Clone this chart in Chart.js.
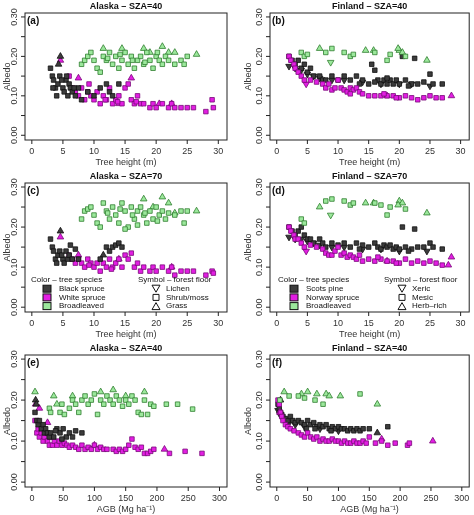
<!DOCTYPE html>
<html>
<head>
<meta charset="utf-8">
<script src="https://cdn.jsdelivr.net/npm/chart.js@4"></script>
<style>
  body { margin: 0; background: #fff; }
  #grid { position: relative; width: 474px; height: 515px; }
  .cell { position: absolute; width: 237px; height: 172px; }
</style>
</head>
<body>
<div id="grid">
  <div class="cell" style="left:0;top:0"><canvas id="pa"></canvas></div>
  <div class="cell" style="left:237px;top:0"><canvas id="pb"></canvas></div>
  <div class="cell" style="left:0;top:171px"><canvas id="pc"></canvas></div>
  <div class="cell" style="left:237px;top:171px"><canvas id="pd"></canvas></div>
  <div class="cell" style="left:0;top:343px"><canvas id="pe"></canvas></div>
  <div class="cell" style="left:237px;top:343px"><canvas id="pf"></canvas></div>
</div>
<script>
// ---- datos: [x, albedo] ----
const aBlackSq = [[3,0.17],[3.3,0.15],[3.5,0.14],[3.8,0.12],[4,0.10],[4.2,0.13],[4.5,0.15],[5,0.12],[5.2,0.11],[5.5,0.14],[5.8,0.10],[6,0.13],[6.2,0.12],[6.5,0.11],[7,0.10],[7.5,0.12],[8,0.09],[9,0.11],[10,0.10],[11,0.12],[12,0.13],[12.5,0.11],[13,0.10],[14,0.13],[3.4,0.12],[4.8,0.14],[5.6,0.15],[6.8,0.12]];
const aWhiteSq = [[6,0.15],[6.5,0.12],[7,0.11],[7.5,0.10],[8,0.12],[8.5,0.09],[9,0.11],[9.5,0.10],[10,0.09],[10.5,0.11],[11,0.08],[11.5,0.10],[12,0.09],[12.5,0.12],[13,0.08],[13.5,0.09],[14,0.10],[14.5,0.08],[15,0.12],[15.5,0.13],[16,0.09],[16.5,0.08],[17,0.10],[17.5,0.08],[18,0.08],[19,0.07],[19.5,0.08],[20,0.07],[21,0.08],[22,0.07],[22.5,0.08],[23,0.07],[24,0.07],[25,0.07],[26,0.07],[28,0.06],[29,0.09],[29.2,0.07],[9.2,0.13],[11.8,0.09],[13.8,0.085],[16.8,0.085]];
const aWhiteTri = [[4.6,0.19],[7.5,0.145],[16,0.145],[20.5,0.08],[22.5,0.08],[14,0.08]];
const aBlackTri = [[4.6,0.20],[4.3,0.18]];
const aGreenSq = [[8,0.18],[8.5,0.19],[9,0.20],[9.5,0.21],[10,0.19],[10.5,0.17],[11,0.16],[11.5,0.20],[12,0.19],[12.5,0.21],[13,0.18],[13.5,0.20],[14,0.17],[14.5,0.19],[15,0.21],[15.5,0.18],[16,0.20],[16.5,0.17],[17,0.19],[17.5,0.20],[18,0.18],[18.5,0.21],[19,0.19],[19.5,0.17],[20,0.20],[20.5,0.19],[21,0.18],[21.5,0.20],[22,0.19],[23,0.18],[24,0.19],[24.5,0.18],[25,0.20],[12.2,0.195],[14.2,0.205],[16.2,0.19],[18.2,0.185],[20.2,0.21]];
const aGreenTri = [[11.5,0.22],[14.5,0.22],[18,0.22],[21,0.225],[22,0.21],[23,0.21],[26.5,0.205],[19,0.21]];

const bBlackSq = [[2,0.20],[2.5,0.19],[3,0.18],[3.5,0.19],[4,0.17],[4.5,0.18],[5,0.16],[5.5,0.17],[6,0.15],[7,0.15],[7.5,0.14],[8,0.14],[9,0.15],[10,0.14],[11,0.15],[12,0.14],[13,0.15],[14,0.14],[15,0.13],[15.5,0.18],[16,0.165],[16.5,0.14],[17,0.13],[17.5,0.14],[18,0.13],[18.5,0.14],[19,0.13],[19.5,0.14],[20,0.13],[20.5,0.20],[21,0.14],[22,0.13],[22.5,0.195],[23,0.13],[24,0.135],[25,0.155],[25.5,0.13],[27,0.13],[13.5,0.13],[16,0.135],[18,0.145],[21.5,0.125]];
const bBlackInv = [[2,0.175],[3,0.17],[4,0.165],[5,0.155],[6,0.15],[7,0.145],[9,0.14],[11,0.14],[14,0.135],[17,0.13],[20,0.13],[22,0.13],[25,0.125]];
const bWhiteSq = [[2,0.20],[2.3,0.19],[2.8,0.18],[3,0.17],[3.5,0.16],[4,0.15],[4.5,0.14],[5.5,0.14],[6.5,0.135],[7.5,0.13],[8,0.12],[8.5,0.13],[9,0.115],[9.5,0.12],[10,0.14],[10.5,0.12],[11,0.115],[11.5,0.11],[12,0.12],[12.5,0.115],[13,0.12],[13.5,0.11],[14,0.105],[15,0.10],[16,0.10],[17,0.10],[18,0.10],[19,0.10],[20,0.095],[21,0.10],[22,0.095],[23,0.09],[24,0.095],[25,0.10],[26,0.095],[27,0.095],[17.5,0.105],[19.5,0.095],[12,0.105]];
const bWhiteTri = [[28.5,0.10],[18,0.10]];
const bWhiteInv = [[4.8,0.13]];
const bGreenSq = [[4,0.21],[4.5,0.20],[5,0.205],[8,0.21],[9,0.22],[11,0.21],[12,0.20],[12.5,0.205],[16,0.21],[18.5,0.205],[18,0.19],[21,0.20]];
const bGreenTri = [[7,0.22],[14.5,0.215],[15.8,0.215],[20,0.215],[20.5,0.21],[24.5,0.19],[19.8,0.22]];
const bGreenInv = [[8.8,0.185]];

const cBlackSq = [[3,0.17],[3.3,0.15],[3.5,0.14],[3.8,0.12],[4,0.11],[4.2,0.13],[4.5,0.14],[5,0.12],[5.2,0.11],[5.5,0.14],[5.8,0.12],[6,0.13],[6.2,0.155],[6.5,0.12],[7,0.145],[7.5,0.12],[12,0.15],[12.5,0.14],[13,0.15],[13.5,0.155],[14,0.16],[14.5,0.15],[11,0.12],[4.8,0.13]];
const cBlackTri = [[4.6,0.19],[11.5,0.13]];
const cWhiteSq = [[6,0.13],[6.5,0.12],[7,0.11],[7.5,0.12],[8,0.11],[8.5,0.10],[9,0.12],[9.5,0.11],[10,0.10],[10.5,0.11],[11,0.09],[11.5,0.11],[12,0.10],[12.5,0.12],[13,0.10],[13.5,0.11],[14,0.12],[14.5,0.10],[15,0.13],[15.5,0.12],[16,0.135],[16.5,0.10],[17,0.11],[17.5,0.09],[18,0.10],[19,0.09],[19.5,0.10],[20,0.09],[21,0.10],[22,0.09],[22.5,0.10],[23,0.08],[24,0.09],[25,0.09],[26,0.09],[28,0.08],[29,0.09],[29.2,0.085],[9.2,0.105],[12.8,0.095]];
const cWhiteTri = [[4.6,0.175],[7.5,0.13],[14,0.12],[22.5,0.10]];
const cGreenSq = [[8,0.22],[8.5,0.24],[9,0.245],[9.5,0.25],[10,0.23],[10.5,0.21],[11,0.20],[11.5,0.26],[12,0.24],[12.5,0.22],[13,0.25],[13.5,0.23],[14,0.21],[14.5,0.26],[15,0.24],[15.5,0.20],[16,0.25],[16.5,0.22],[17,0.24],[17.5,0.25],[18,0.23],[18.5,0.21],[19,0.24],[19.5,0.22],[20,0.25],[20.5,0.23],[21,0.24],[21.5,0.22],[22,0.235],[23,0.23],[24,0.24],[24.5,0.21],[25,0.24],[12.2,0.235],[14.2,0.245],[16.2,0.23],[18.2,0.235],[20.2,0.215],[15,0.195],[17,0.205]];
const cGreenTri = [[18,0.27],[21,0.275],[22,0.26],[23,0.235],[26.5,0.24],[19.5,0.25]];

const dBlackSq = [[2,0.20],[2.5,0.19],[3,0.18],[3.5,0.19],[4,0.20],[4.5,0.18],[5,0.17],[5.5,0.17],[6,0.16],[7,0.17],[7.5,0.16],[8,0.15],[9,0.16],[10,0.155],[11,0.16],[12,0.15],[13,0.16],[14,0.155],[15,0.15],[16,0.16],[16.5,0.15],[17,0.145],[17.5,0.155],[18,0.15],[18.5,0.155],[19,0.145],[19.5,0.15],[20,0.145],[20.5,0.20],[21,0.15],[22,0.145],[22.5,0.195],[23,0.15],[24,0.15],[25,0.16],[25.5,0.15],[27,0.145],[13.5,0.145],[21.5,0.14]];
const dBlackInv = [[2,0.175],[3,0.17],[4,0.17],[5,0.165],[6,0.16],[7,0.155],[9,0.15],[11,0.15],[14,0.145],[17,0.145],[20,0.14],[24.5,0.14]];
const dWhiteSq = [[2,0.20],[2.3,0.19],[2.8,0.18],[3,0.17],[3.5,0.17],[4,0.16],[4.5,0.15],[5.5,0.155],[6.5,0.15],[7.5,0.145],[8,0.135],[8.5,0.13],[9,0.13],[9.5,0.14],[10,0.15],[10.5,0.13],[11,0.135],[11.5,0.125],[12,0.13],[12.5,0.125],[13,0.12],[13.5,0.13],[14,0.115],[15,0.12],[16,0.115],[17,0.12],[18,0.115],[19,0.115],[20,0.11],[21,0.12],[22,0.11],[23,0.115],[24,0.11],[25,0.115],[26,0.11],[27,0.105],[16.5,0.125],[19.5,0.11]];
const dWhiteTri = [[28.5,0.125],[28,0.105],[18,0.115]];
const dWhiteInv = [[4.8,0.14]];
const dGreenSq = [[4,0.22],[4.5,0.21],[8,0.265],[9,0.27],[11,0.265],[12,0.255],[12.5,0.26],[16,0.26],[17,0.255],[18.5,0.25],[18,0.23],[21,0.245]];
const dGreenTri = [[7,0.25],[14.5,0.26],[15.8,0.26],[20,0.265],[20.5,0.26],[24.5,0.235],[19.8,0.255]];
const dGreenInv = [[8.8,0.23]];

const eBlackSq = [[5,0.17],[8,0.15],[10,0.14],[12,0.15],[15,0.13],[18,0.14],[20,0.12],[22,0.13],[25,0.12],[28,0.11],[30,0.12],[35,0.11],[40,0.13],[45,0.12],[50,0.13],[55,0.11],[60,0.12],[65,0.11],[70,0.125],[80,0.12],[48,0.105],[38,0.125]];
const eBlackTri = [[6,0.20],[7,0.19]];
const eWhiteSq = [[5,0.15],[8,0.12],[10,0.13],[12,0.11],[15,0.12],[18,0.10],[20,0.11],[22,0.12],[25,0.10],[28,0.09],[30,0.11],[33,0.09],[36,0.10],[40,0.09],[44,0.10],[48,0.09],[52,0.095],[56,0.09],[60,0.085],[65,0.09],[70,0.085],[75,0.08],[80,0.09],[85,0.08],[90,0.085],[95,0.08],[100,0.09],[105,0.08],[110,0.085],[115,0.08],[120,0.08],[130,0.08],[135,0.075],[140,0.08],[145,0.075],[150,0.08],[155,0.09],[160,0.105],[165,0.085],[170,0.08],[175,0.085],[180,0.07],[185,0.07],[190,0.075],[195,0.08],[220,0.07],[245,0.075],[272,0.07]];
const eWhiteTri = [[6,0.19],[12,0.18],[25,0.145],[100,0.09],[212,0.08]];
const eGreenSq = [[28,0.18],[30,0.17],[45,0.17],[48,0.19],[52,0.165],[60,0.18],[65,0.2],[70,0.19],[75,0.17],[80,0.2],[85,0.21],[90,0.19],[95,0.2],[100,0.215],[105,0.165],[110,0.2],[115,0.19],[120,0.21],[125,0.2],[130,0.19],[135,0.21],[140,0.2],[145,0.185],[150,0.2],[155,0.19],[160,0.21],[165,0.2],[170,0.17],[175,0.165],[180,0.2],[185,0.165],[190,0.19],[195,0.185],[215,0.19],[233,0.19],[257,0.178]];
const eGreenTri = [[5,0.22],[35,0.21],[40,0.19],[65,0.21],[110,0.22],[130,0.225],[150,0.21],[180,0.22]];

const fBlackSq = [[2,0.19],[4,0.18],[6,0.17],[8,0.165],[10,0.16],[14,0.155],[18,0.15],[22,0.16],[26,0.15],[30,0.145],[35,0.15],[40,0.145],[45,0.14],[50,0.15],[55,0.14],[60,0.145],[65,0.135],[70,0.14],[75,0.135],[80,0.14],[85,0.13],[90,0.135],[95,0.13],[100,0.135],[105,0.13],[110,0.13],[115,0.125],[120,0.13],[125,0.125],[130,0.13],[135,0.125],[140,0.13],[150,0.13],[180,0.135],[48,0.13],[62,0.13],[88,0.125]];
const fBlackInv = [[2,0.175],[5,0.165],[10,0.155],[20,0.145],[30,0.14],[45,0.135],[70,0.13],[100,0.125]];
const fBlackTri = [[6,0.2],[163,0.12]];
const fWhiteSq = [[2,0.20],[4,0.19],[6,0.17],[8,0.16],[10,0.15],[14,0.14],[18,0.135],[22,0.13],[28,0.125],[35,0.12],[40,0.115],[45,0.11],[50,0.12],[55,0.11],[60,0.105],[65,0.11],[70,0.10],[75,0.105],[80,0.10],[85,0.10],[90,0.105],[95,0.10],[100,0.10],[105,0.095],[110,0.10],[115,0.095],[120,0.095],[125,0.10],[130,0.095],[135,0.095],[140,0.10],[145,0.095],[150,0.11],[160,0.095],[170,0.1],[180,0.09],[192,0.095],[212,0.09],[215,0.095]];
const fWhiteTri = [[5,0.17],[170,0.105],[253,0.1]];
const fGreenSq = [[20,0.21],[35,0.21],[45,0.205],[62,0.2],[75,0.19],[135,0.215],[5,0.2]];
const fGreenTri = [[12,0.22],[40,0.215],[50,0.22],[65,0.215],[80,0.215],[85,0.21],[103,0.21],[163,0.19]];

const xTicksHeight = [0, 5, 10, 15, 20, 25, 30];
const xTicksAgb = [0, 50, 100, 150, 200, 250, 300];
const yTicks = [0, 0.05, 0.10, 0.15, 0.20, 0.25, 0.30];
const yLabels = ['0.00', '', '0.10', '', '0.20', '', '0.30'];

// ---- estilos ----
const species = {
  black: { fill: '#3c3c3c', border: '#111' },
  white: { fill: '#e21ee2', border: '#7a0a7a' },
  green: { fill: '#9ce89c', border: '#2e7d2e' }
};

function serie(data, sp, shape) {
  const c = species[sp];
  return {
    data: data.map(p => ({ x: p[0], y: p[1] })),
    pointStyle: shape === 'sq' ? 'rect' : 'triangle',
    rotation: shape === 'inv' ? 180 : 0,
    pointRadius: shape === 'sq' ? 3.2 : 3.8,
    backgroundColor: c.fill,
    borderColor: c.border,
    borderWidth: 0.8
  };
}

// Plugin que dibuja marco, ejes al estilo R, títulos y leyenda
const estiloR = {
  id: 'estiloR',
  afterDraw(chart) {
    const o = chart.options.plugins.estiloR;
    const ctx = chart.ctx, a = chart.chartArea;
    const sx = chart.scales.x, sy = chart.scales.y;
    ctx.save();
    ctx.strokeStyle = '#222'; ctx.lineWidth = 1;
    ctx.strokeRect(a.left, a.top, a.right - a.left, a.bottom - a.top);
    ctx.fillStyle = '#333';
    ctx.font = '9px "Liberation Sans", Arial, sans-serif';
    ctx.textAlign = 'center'; ctx.textBaseline = 'top';
    o.xTicks.forEach(v => {
      const px = sx.getPixelForValue(v);
      ctx.beginPath(); ctx.moveTo(px, a.bottom); ctx.lineTo(px, a.bottom + 4); ctx.stroke();
      ctx.fillText(String(v), px, a.bottom + 7);
    });
    yTicks.forEach((v, i) => {
      const py = sy.getPixelForValue(v);
      ctx.beginPath(); ctx.moveTo(a.left, py); ctx.lineTo(a.left - 4, py); ctx.stroke();
      if (yLabels[i]) {
        ctx.save(); ctx.translate(a.left - 10, py); ctx.rotate(-Math.PI / 2);
        ctx.textBaseline = 'middle'; ctx.fillText(yLabels[i], 0, 0); ctx.restore();
      }
    });
    // títulos
    ctx.fillStyle = '#111';
    ctx.font = 'bold 9px "Liberation Sans", Arial, sans-serif';
    ctx.textBaseline = 'bottom';
    ctx.fillText(o.title, (a.left + a.right) / 2, a.top - 2);
    ctx.font = 'bold 10px "Liberation Sans", Arial, sans-serif';
    ctx.textAlign = 'left'; ctx.textBaseline = 'top';
    ctx.fillText(o.letter, a.left + 2, a.top + 3);
    ctx.font = '9px "Liberation Sans", Arial, sans-serif';
    ctx.fillStyle = '#333'; ctx.textAlign = 'center';
    ctx.fillText(o.xTitle, (a.left + a.right) / 2, a.bottom + 18);
    ctx.save(); ctx.translate(o.padding.left > 28 ? 12 : 8, (a.top + a.bottom) / 2); ctx.rotate(-Math.PI / 2);
    ctx.textBaseline = 'middle'; ctx.fillText('Albedo', 0, 0); ctx.restore();
    // leyenda
    if (o.legend) {
      const L = o.legend, x0 = a.left + L.dx, y0 = a.bottom - 32;
      ctx.fillStyle = '#111'; ctx.textAlign = 'left'; ctx.textBaseline = 'middle';
      ctx.font = '8px "Liberation Sans", Arial, sans-serif';
      ctx.fillText('Color \u2013 tree species', x0, y0);
      ctx.fillText('Symbol \u2013 forest floor', x0 + L.sx, y0);
      ['black', 'white', 'green'].forEach((sp, i) => {
        const yy = y0 + 8.7 * (i + 1);
        ctx.fillStyle = species[sp].fill; ctx.strokeStyle = '#111';
        ctx.fillRect(x0 + 12, yy - 3.5, 8, 7); ctx.strokeRect(x0 + 12, yy - 3.5, 8, 7);
        ctx.fillStyle = '#111'; ctx.fillText(L.names[i], x0 + 28, yy);
        ctx.fillText(L.floors[i], x0 + L.sx + 28, yy);
        const cx = x0 + L.sx + 18;
        ctx.strokeStyle = '#111'; ctx.beginPath();
        if (i === 0) { ctx.moveTo(cx - 4, yy - 3.5); ctx.lineTo(cx + 4, yy - 3.5); ctx.lineTo(cx, yy + 3.5); ctx.closePath(); }
        else if (i === 1) { ctx.rect(cx - 3, yy - 3, 6, 6); }
        else { ctx.moveTo(cx - 4, yy + 3.5); ctx.lineTo(cx + 4, yy + 3.5); ctx.lineTo(cx, yy - 3.5); ctx.closePath(); }
        ctx.stroke();
      });
    }
    ctx.restore();
  }
};

function panel(id, datasets, cfg) {
  new Chart(document.getElementById(id), {
    type: 'scatter',
    data: { datasets },
    options: {
      responsive: true, maintainAspectRatio: false, animation: false,
      layout: { padding: cfg.padding },
      scales: {
        x: { type: 'linear', display: false, min: cfg.xRange[0], max: cfg.xRange[1] },
        y: { type: 'linear', display: false, min: -0.012, max: 0.31 }
      },
      plugins: {
        legend: { display: false }, tooltip: { enabled: false },
        estiloR: cfg
      }
    },
    plugins: [estiloR]
  });
}

const hRange = [-1.1, 31.4], agbRange = [-11, 312];
const padL = { left: 25, right: 10, top: 13, bottom: 32 };
const padR = { left: 33, right: 4, top: 13, bottom: 32 };
const hTitle = 'Tree height (m)', agbTitle = 'AGB (Mg ha\u207B\u00B9)';

panel('pa', [serie(aGreenSq, 'green', 'sq'), serie(aGreenTri, 'green', 'tri'), serie(aBlackSq, 'black', 'sq'), serie(aBlackTri, 'black', 'tri'), serie(aWhiteSq, 'white', 'sq'), serie(aWhiteTri, 'white', 'tri')],
  { padding: padL, xRange: hRange, xTicks: xTicksHeight, title: 'Alaska \u2013 SZA=40', letter: '(a)', xTitle: hTitle });
panel('pb', [serie(bGreenSq, 'green', 'sq'), serie(bGreenTri, 'green', 'tri'), serie(bGreenInv, 'green', 'inv'), serie(bWhiteSq, 'white', 'sq'), serie(bWhiteTri, 'white', 'tri'), serie(bWhiteInv, 'white', 'inv'), serie(bBlackSq, 'black', 'sq'), serie(bBlackInv, 'black', 'inv')],
  { padding: padR, xRange: hRange, xTicks: xTicksHeight, title: 'Finland \u2013 SZA=40', letter: '(b)', xTitle: hTitle });
panel('pc', [serie(cGreenSq, 'green', 'sq'), serie(cGreenTri, 'green', 'tri'), serie(cBlackSq, 'black', 'sq'), serie(cBlackTri, 'black', 'tri'), serie(cWhiteSq, 'white', 'sq'), serie(cWhiteTri, 'white', 'tri')],
  { padding: { left: 25, right: 10, top: 12, bottom: 31 }, xRange: hRange, xTicks: xTicksHeight, title: 'Alaska \u2013 SZA=70', letter: '(c)', xTitle: hTitle,
    legend: { dx: 6, sx: 107, names: ['Black spruce', 'White spruce', 'Broadleaved'], floors: ['Lichen', 'Shrub/moss', 'Grass'] } });
panel('pd', [serie(dGreenSq, 'green', 'sq'), serie(dGreenTri, 'green', 'tri'), serie(dGreenInv, 'green', 'inv'), serie(dWhiteSq, 'white', 'sq'), serie(dWhiteTri, 'white', 'tri'), serie(dWhiteInv, 'white', 'inv'), serie(dBlackSq, 'black', 'sq'), serie(dBlackInv, 'black', 'inv')],
  { padding: { left: 33, right: 4, top: 12, bottom: 31 }, xRange: hRange, xTicks: xTicksHeight, title: 'Finland \u2013 SZA=70', letter: '(d)', xTitle: hTitle,
    legend: { dx: 8, sx: 106, names: ['Scots pine', 'Norway spruce', 'Broadleaved'], floors: ['Xeric', 'Mesic', 'Herb\u2013rich'] } });
panel('pe', [serie(eGreenSq, 'green', 'sq'), serie(eGreenTri, 'green', 'tri'), serie(eBlackSq, 'black', 'sq'), serie(eBlackTri, 'black', 'tri'), serie(eWhiteSq, 'white', 'sq'), serie(eWhiteTri, 'white', 'tri')],
  { padding: { left: 25, right: 10, top: 12, bottom: 28 }, xRange: agbRange, xTicks: xTicksAgb, title: 'Alaska \u2013 SZA=40', letter: '(e)', xTitle: agbTitle });
panel('pf', [serie(fGreenSq, 'green', 'sq'), serie(fGreenTri, 'green', 'tri'), serie(fWhiteSq, 'white', 'sq'), serie(fWhiteTri, 'white', 'tri'), serie(fBlackSq, 'black', 'sq'), serie(fBlackInv, 'black', 'inv'), serie(fBlackTri, 'black', 'tri')],
  { padding: { left: 33, right: 4, top: 12, bottom: 28 }, xRange: agbRange, xTicks: xTicksAgb, title: 'Finland \u2013 SZA=40', letter: '(f)', xTitle: agbTitle });
</script>
</body>
</html>
